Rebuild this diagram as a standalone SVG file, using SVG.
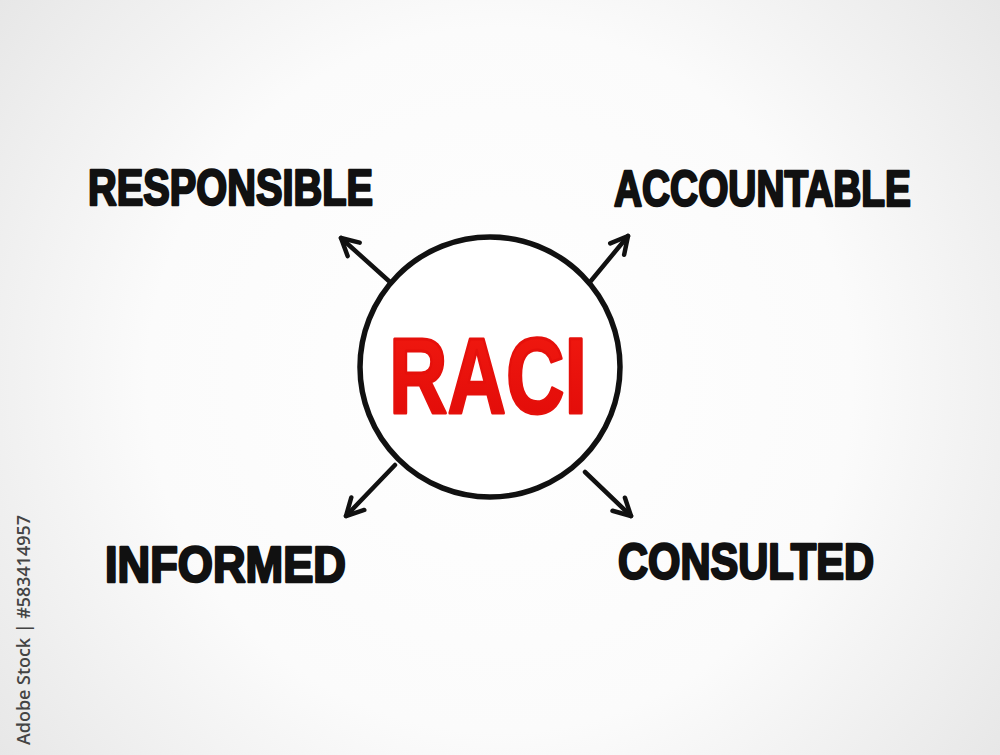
<svg xmlns="http://www.w3.org/2000/svg" width="1000" height="755" viewBox="0 0 1000 755">
<defs>
<radialGradient id="bg" cx="500" cy="380" r="640" gradientUnits="userSpaceOnUse">
<stop offset="0" stop-color="#ffffff"/>
<stop offset="0.55" stop-color="#fbfbfb"/>
<stop offset="1" stop-color="#e6e6e6"/>
</radialGradient>
<linearGradient id="red" x1="0" y1="0" x2="0" y2="1">
<stop offset="0" stop-color="#f21a10"/>
<stop offset="1" stop-color="#e00a08"/>
</linearGradient>
<marker id="ah" viewBox="0 0 24 24" refX="20" refY="12" markerWidth="24" markerHeight="24" markerUnits="userSpaceOnUse" orient="auto">
<path d="M3 3 L20 12 L3 21" fill="none" stroke="#111" stroke-width="4.5" stroke-linecap="round" stroke-linejoin="round"/>
</marker>
</defs>
<style>
.lbl{font-family:"Liberation Sans","DejaVu Sans",sans-serif;font-weight:bold;font-size:50px;fill:#111;stroke:#111;stroke-width:2.5;stroke-linejoin:round}
.conn line{stroke:#111;stroke-width:4.5;stroke-linecap:round}
</style>
<rect width="1000" height="755" fill="url(#bg)"/>
<g id="center">
<circle cx="490" cy="367" r="130" fill="#fff" stroke="#111" stroke-width="5.5"/>
<text x="488" y="413" text-anchor="middle" font-family="Liberation Sans, DejaVu Sans, sans-serif" font-weight="bold" font-size="108" fill="url(#red)" stroke="#e5100b" stroke-width="3" stroke-linejoin="round" textLength="198" lengthAdjust="spacingAndGlyphs">RACI</text>
</g>
<g class="conn" id="connectors">
<line x1="390" y1="282" x2="341" y2="238" marker-end="url(#ah)"/>
<line x1="590" y1="282" x2="628" y2="236" marker-end="url(#ah)"/>
<line x1="395" y1="465" x2="346" y2="516" marker-end="url(#ah)"/>
<line x1="585" y1="472" x2="631" y2="516" marker-end="url(#ah)"/>
</g>
<g id="responsible"><text class="lbl" x="88" y="205" textLength="285" lengthAdjust="spacingAndGlyphs">RESPONSIBLE</text></g>
<g id="accountable"><text class="lbl" x="614" y="206" textLength="297" lengthAdjust="spacingAndGlyphs">ACCOUNTABLE</text></g>
<g id="informed"><text class="lbl" x="105" y="582" textLength="241" lengthAdjust="spacingAndGlyphs">INFORMED</text></g>
<g id="consulted"><text class="lbl" x="618" y="579" textLength="256" lengthAdjust="spacingAndGlyphs">CONSULTED</text></g>
<text x="30" y="745" transform="rotate(-90 30 745)" font-family="Open Sans, DejaVu Sans, sans-serif" font-size="18" font-weight="600" fill="#444" textLength="230" lengthAdjust="spacingAndGlyphs">Adobe Stock | #583414957</text>
</svg>
